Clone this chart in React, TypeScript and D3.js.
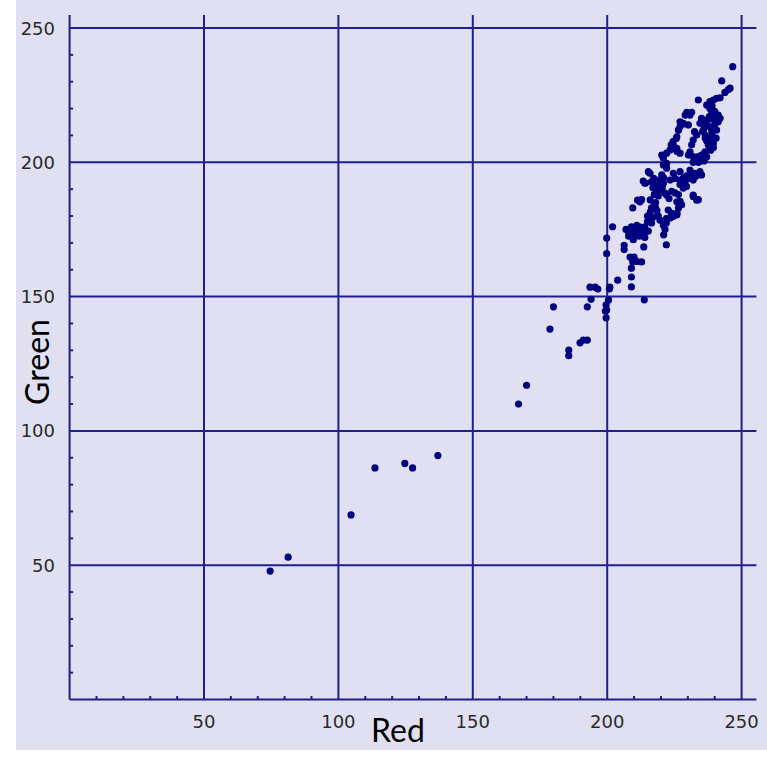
import React from "react";
import * as d3 from "d3";

const red: number[] = [
  74.6, 81.3, 104.7, 113.6, 124.7, 127.6, 137, 167, 170, 178.7, 180, 185.7, 185.7, 189.9, 191.1, 192.6, 192.6, 194, 193.6, 195.5, 196.5, 199.6, 199.8, 199.3, 199.6, 200.5, 201, 200.8, 203.9, 199.8, 199.8, 202, 209, 209, 209, 209.5, 211, 212.8, 208.5, 210, 206.3, 206.3, 209.7, 213.6, 213.8,
  207, 208, 209, 210, 211, 212, 213, 208, 210, 212, 214, 214, 214, 215.3, 216.5, 215, 216, 216.5, 217.5, 218, 218.5, 217, 221, 222, 222, 221.5, 209.5, 211.3, 212.8, 212.2, 214.3, 218.4, 221.5, 214, 216.5, 219, 220.9, 218.4, 220.3, 222.1, 213.4, 215.3, 217.3, 215.9, 220.3, 223.4, 222.1, 220.3, 220.9, 222.1, 220.9, 222.1, 223.4, 224.6, 225.9, 225.9, 226.5, 227.1, 228.3, 229.6, 231.4, 223.8, 224.5, 225.7, 226, 227.1, 224.5,
  225.2, 227.1, 229, 230.8, 232.7, 234, 224.6, 227.1, 230.8, 234.5, 235.1, 228.3, 232, 227.1, 228.3, 225.2, 224, 232, 233.9, 232, 233.3, 227.1, 227.7, 226.5, 226, 224.6, 223.4, 222.7, 224, 225.9, 225.9, 227.1, 222.1, 220.9, 219.6, 219, 218,
  232.5, 233.3, 232, 231.4, 230.8, 230.2, 232, 233.9, 235.1, 236.4, 237.6, 238.2, 238.9, 238.2, 237, 235.1, 235.7, 234.5, 229, 230.8, 228.3, 230.2, 227.1, 226.5, 236.5, 237, 239, 239.5, 238.5, 237, 236, 234, 232,
  246.7, 242.6, 245, 245.7, 243.8, 242, 240.7, 239.5, 238.2, 233.9, 237, 238.2, 238.9, 241.3, 242, 241.3, 240.7, 240, 239.5, 240,
  217, 218, 219.5, 220.5, 221, 217.5, 219, 229.5, 231, 233, 228, 229.5, 236, 236.5, 237.5, 238, 239, 235.5, 236.5, 238, 239.5, 240.5, 212, 213, 211, 215, 216, 210.5, 223, 226.5,
];

const green: number[] = [
  47.8, 53, 68.7, 86.2, 87.9, 86.2, 90.8, 110, 117, 137.9, 146.2, 130.1, 128, 132.8, 133.8, 133.8, 146.2, 149, 153.5, 153.5, 152.8, 146.9, 145, 144.6, 142.1, 148.7, 153.5, 152.8, 156.1, 171.8, 166, 176, 153.6, 157.3, 160.6, 162.9, 163.1, 162.9, 164.7, 164.7, 169.1, 167.5, 171.2, 168.5, 148.8,
  175, 174, 176, 175, 174.5, 176, 174, 172.5, 172, 172.5, 172, 174, 176, 174.4, 177.4, 180, 181.5, 183, 184, 185, 182, 179.5, 173, 169.3, 177.4, 175, 183, 185.9, 186.1, 185.3, 192.3, 190.4, 188.5, 192.2, 192.8, 191.6, 192.2, 189, 189.7, 187.8, 193, 196.5, 194, 195.9, 195.3, 193.4, 197.8, 202.7, 201.5, 199.6, 199, 203.4, 204.6, 206.4, 205.2, 209.5, 212, 215.1, 214.3, 218.6, 218.6, 206.5, 207.7, 208.9, 204, 203.4, 205.2,
  194, 193.4, 192.8, 194, 195.9, 195.5, 195.9, 196.5, 197.1, 196.5, 195.3, 194, 193.4, 191.7, 190.4, 188.6, 189.2, 187.3, 186.1, 187.8, 185.9, 185.5, 184.2, 183, 181.1, 179.9, 179.3, 182.2, 181, 180.4, 185.3, 184.1, 179.1, 176.6, 178.5, 180, 183,
  211.4, 210.2, 208.3, 206.5, 203.9, 202.7, 202.1, 202.1, 202.7, 203.9, 206.5, 208.9, 211.4, 213.2, 214.5, 216.4, 215.1, 214.5, 217.6, 217.6, 214.5, 213.9, 213.2, 212, 210, 208, 210, 207, 204.5, 202, 200.5, 200, 200,
  235.6, 230.3, 227, 227.6, 226, 224, 223.8, 223.2, 222.6, 223.2, 221.3, 220, 218.3, 217.6, 216.4, 215.1, 212, 219, 216, 214,
  190.5, 191.5, 193.5, 190.8, 194.2, 188, 187.5, 195, 195.8, 194.8, 192, 191, 212.5, 213.5, 216, 217, 221, 211.5, 209, 206, 205.5, 209, 174, 175.5, 176.5, 178, 186, 173.5, 186.5, 188,
];

const majorTicks: number[] = [50, 100, 150, 200, 250];
const tickLabels: string[] = ["50", "100", "150", "200", "250"];
const minorTicks: number[] = d3.range(10, 251, 10).filter((v) => v % 50 !== 0);

const W = 767;
const H = 762;
const lineColor = "#1f1f8f";
const dotColor = "#000080";

export default function App() {
  const x = d3.scaleLinear().domain([0, 255]).range([69.6, 69.6 + 255 * 2.688]);
  const y = d3.scaleLinear().domain([0, 255]).range([699.5, 699.5 - 255 * 2.686]);
  const x0 = x(0);
  const x1 = x(255.5);
  const y0 = y(0);
  const y1 = y(254.8);
  const pts = red.map((r, i) => [r, green[i]] as [number, number]);
  const labelFont = "'DejaVu Sans', Verdana, sans-serif";
  const titleFont = "Lato, 'Open Sans', sans-serif";

  return (
    <div style={{ position: "absolute", left: 0, top: 0 }}>
      <svg width={W} height={H} style={{ display: "block" }}>
        <rect x={0} y={0} width={W} height={H} fill="#ffffff" />
        <rect x={16} y={0} width={W - 16} height={750} fill="#e0e0f2" />
        {majorTicks.map((t) => (
          <line key={"gv" + t} x1={x(t)} x2={x(t)} y1={y1} y2={y0} stroke={lineColor} strokeWidth={2} />
        ))}
        {majorTicks.map((t) => (
          <line key={"gh" + t} x1={x0} x2={x1} y1={y(t)} y2={y(t)} stroke={lineColor} strokeWidth={2} />
        ))}
        <line x1={x0} x2={x0} y1={y1} y2={y0} stroke={lineColor} strokeWidth={2} />
        <line x1={x0} x2={x1} y1={y0} y2={y0} stroke={lineColor} strokeWidth={2} />
        {minorTicks.map((t) => (
          <line key={"mx" + t} x1={x(t)} x2={x(t)} y1={y0} y2={y0 - 3.5} stroke={lineColor} strokeWidth={2} />
        ))}
        {minorTicks.map((t) => (
          <line key={"my" + t} x1={x0} x2={x0 + 3.5} y1={y(t)} y2={y(t)} stroke={lineColor} strokeWidth={2} />
        ))}
        {majorTicks.map((t, i) => (
          <text key={"ly" + t} x={55} y={y(t) + 6.5} textAnchor="end" fontFamily={labelFont} fontSize={18} fill="#2a2a2a">
            {tickLabels[i]}
          </text>
        ))}
        {majorTicks.map((t, i) => (
          <text key={"lx" + t} x={x(t)} y={728} textAnchor="middle" fontFamily={labelFont} fontSize={18} fill="#2a2a2a">
            {tickLabels[i]}
          </text>
        ))}
        {pts.map((p, i) => (
          <circle key={"p" + i} cx={x(p[0])} cy={y(p[1])} r={3.6} fill={dotColor} />
        ))}
        <text x={398} y={742} textAnchor="middle" fontFamily={titleFont} fontSize={32} fill="#000">
          Red
        </text>
        <text
          transform={`translate(49,${362}) rotate(-90)`}
          textAnchor="middle"
          fontFamily={titleFont}
          fontSize={32}
          fill="#000"
        >
          Green
        </text>
      </svg>
    </div>
  );
}
